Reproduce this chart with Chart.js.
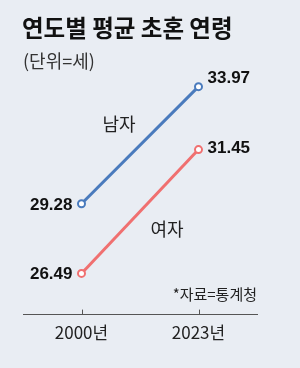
<!DOCTYPE html>
<html>
<head>
<meta charset="utf-8">
<script src="https://cdn.jsdelivr.net/npm/chart.js@4"></script>
<style>
  html, body { margin: 0; padding: 0; background: #e9edf3; }
  #wrap { width: 300px; height: 368px; }
</style>
</head>
<body>
<div id="wrap"><canvas id="age"></canvas></div>
<script>
const years = ['2000년', '2023년'];
const male = [29.28, 33.97];
const female = [26.49, 31.45];
const seriesNames = ['남자', '여자'];
const title = '연도별 평균 초혼 연령';
const unit = '(단위=세)';
const source = '*자료=통계청';

const KR = '"Noto Sans CJK KR", "Noto Sans", sans-serif';
const NUM = '"Liberation Sans", Arial, sans-serif';

const decor = {
  id: 'decor',
  beforeDraw(chart) {
    const c = chart.ctx;
    c.save();
    c.fillStyle = '#e9edf3';
    c.fillRect(0, 0, chart.width, chart.height);
    c.restore();
  },
  afterDatasetsDraw(chart) {
    const c = chart.ctx;
    const area = chart.chartArea;
    const xs = chart.scales.x;
    c.save();

    // title + unit
    c.fillStyle = '#111';
    c.textAlign = 'left';
    c.textBaseline = 'alphabetic';
    c.font = 'bold 23.5px ' + KR;
    c.fillText(title, 22, 37);
    c.fillStyle = '#333';
    c.font = '18px ' + KR;
    c.fillText(unit, 23, 68);

    // short tick marks above the axis
    c.strokeStyle = '#555';
    c.lineWidth = 1;
    years.forEach((y, i) => {
      const px = Math.round(xs.getPixelForValue(i)) + 0.5;
      c.beginPath();
      c.moveTo(px, area.bottom - 5);
      c.lineTo(px, area.bottom);
      c.stroke();
    });

    // value labels
    const nudge = [[2, -8], [1, -1]];
    c.font = 'bold 17px ' + NUM;
    c.fillStyle = '#111';
    c.textBaseline = 'middle';
    chart.data.datasets.forEach((ds, d) => {
      const meta = chart.getDatasetMeta(d);
      meta.data.forEach((pt, i) => {
        const v = ds.data[i].toFixed(2);
        if (i === 0) {
          c.textAlign = 'right';
          c.fillText(v, pt.x - 9, pt.y + nudge[d][0]);
        } else {
          c.textAlign = 'left';
          c.fillText(v, pt.x + 9, pt.y + nudge[d][1]);
        }
      });
    });

    // series names along the lines
    const nameOff = [[-21, -21], [27, 18]];
    c.font = '18px ' + KR;
    c.fillStyle = '#222';
    c.textAlign = 'center';
    chart.data.datasets.forEach((ds, d) => {
      const pts = chart.getDatasetMeta(d).data;
      const mx = (pts[0].x + pts[1].x) / 2;
      const my = (pts[0].y + pts[1].y) / 2;
      c.fillText(seriesNames[d], mx + nameOff[d][0], my + nameOff[d][1]);
    });

    // source note
    c.font = '15px ' + KR;
    c.fillStyle = '#222';
    c.textAlign = 'right';
    c.fillText(source, area.right, area.bottom - 20);

    c.restore();
  }
};

const ctx = document.getElementById('age').getContext('2d');

new Chart(ctx, {
  type: 'line',
  data: {
    labels: years,
    datasets: [
      {
        label: seriesNames[0],
        data: male,
        borderColor: '#4a7bbd',
        borderWidth: 3,
        pointRadius: 3.5,
        pointBorderWidth: 2,
        pointBackgroundColor: '#ffffff',
        pointBorderColor: '#4a7bbd',
        tension: 0,
        clip: false
      },
      {
        label: seriesNames[1],
        data: female,
        borderColor: '#f07070',
        borderWidth: 3,
        pointRadius: 3.5,
        pointBorderWidth: 2,
        pointBackgroundColor: '#ffffff',
        pointBorderColor: '#f07070',
        tension: 0,
        clip: false
      }
    ]
  },
  options: {
    responsive: true,
    maintainAspectRatio: false,
    animation: false,
    layout: {
      padding: { top: 21, left: 23, right: 43, bottom: 17 }
    },
    plugins: {
      legend: { display: false },
      tooltip: { enabled: false }
    },
    scales: {
      x: {
        offset: true,
        grid: { display: false, drawTicks: false },
        border: { display: true, color: '#555', width: 1 },
        ticks: {
          padding: 8,
          color: '#222',
          font: { family: KR, size: 17 }
        }
      },
      y: {
        display: false,
        min: 24.84,
        max: 36.6
      }
    }
  },
  plugins: [decor]
});
</script>
</body>
</html>
